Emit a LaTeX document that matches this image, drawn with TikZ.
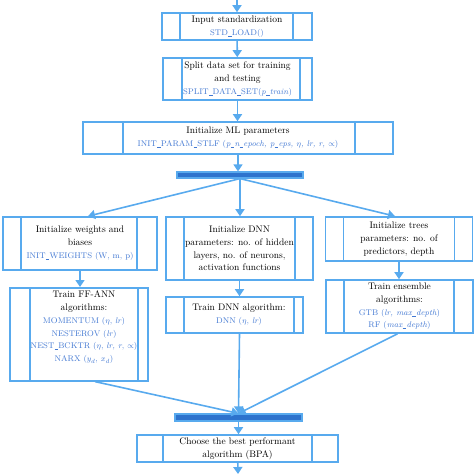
\documentclass[tikz,border=0pt]{standalone}
\usetikzlibrary{arrows.meta}
\definecolor{boxblue}{RGB}{88,170,238}
\definecolor{barblue}{RGB}{45,115,205}
\definecolor{fnblue}{RGB}{66,120,210}
\newcommand{\fncall}[1]{{\fontsize{8.2}{12.8}\selectfont\color{fnblue}#1}}
\newcommand{\us}{\kern0.2pt\rule[-0.9pt]{3.6pt}{0.4pt}\kern0.2pt}
\tikzset{
  proc/.style n args={2}{draw=boxblue, line width=1.6pt, align=center, inner sep=2pt,
    path picture={\draw[boxblue, line width=1.6pt]
      ([xshift=#1]path picture bounding box.north west) -- ([xshift=#1]path picture bounding box.south west)
      ([xshift=-#2]path picture bounding box.north east) -- ([xshift=-#2]path picture bounding box.south east);}},
  bar/.style={draw=boxblue, fill=barblue, line width=1.2pt, minimum width=126pt, minimum height=6pt, inner sep=0pt},
  arr/.style={draw=boxblue, line width=1.6pt, -{Triangle[width=9pt,length=7pt]}}
}
\begin{document}
\begin{tikzpicture}[x=1pt, y=-1pt, font=\fontsize{9.5}{12.8}\selectfont]
  \useasboundingbox (0,0) rectangle (474,474);

  % main column
  \node[proc={18pt}{19pt}, minimum width=150pt, minimum height=27pt] (std) at (237,26.5)
    {Input standardization\\ \fncall{STD\us LOAD()}};
  \node[proc={19pt}{12pt}, minimum width=149pt, minimum height=42pt] (split) at (237.5,79)
    {Split data set for training\\ and testing\\ \fncall{SPLIT\us DATA\us SET(\textit{p\us train})}};
  \node[proc={40pt}{38pt}, minimum width=310pt, minimum height=32pt] (init) at (238,138)
    {Initialize ML parameters\\ \fncall{INIT\us PARAM\us STLF (\textit{p\us n\us epoch, p\us eps, $\eta$, lr, r, $\propto$})}};
  \node[bar] (fork) at (240,175) {};

  % three branches
  \node[proc={18pt}{20pt}, minimum width=154pt, minimum height=53pt] (weights) at (80,243.5)
    {Initialize weights and\\ biases\\ \fncall{INIT\us WEIGHTS (W, m, p)}};
  \node[proc={18pt}{18pt}, minimum width=147pt, minimum height=63pt] (dnnpar) at (239.5,248.5)
    {Initialize DNN\\ parameters: no. of hidden\\ layers, no. of neurons,\\ activation functions};
  \node[proc={18pt}{18pt}, minimum width=147pt, minimum height=44pt] (trees) at (399,239)
    {Initialize trees\\ parameters: no. of\\ predictors, depth};

  \node[proc={20pt}{10pt}, anchor=north, minimum width=138pt, inner sep=3pt] (ffann) at (79,287)
    {\parbox[c][87pt][t]{120pt}{\centering\leftskip=10pt plus 1fil Train FF-ANN\\ algorithms:\\
      \fncall{MOMENTUM ($\eta$, \textit{lr})}\\
      \fncall{NESTEROV (\textit{lr})}\\
      \fncall{NEST\us BCKTR ($\eta$, \textit{lr, r}, $\propto$)}\\
      \fncall{NARX ($y_d$, $x_d$)}}};
  \node[proc={18pt}{9pt}, minimum width=137pt, minimum height=36pt] (dnntrain) at (234.5,315)
    {\parbox{120pt}{\centering\leftskip=9pt plus 1fil Train DNN algorithm:\\ \fncall{DNN ($\eta$, \textit{lr})}}};
  \node[proc={18pt}{19pt}, minimum width=147pt, minimum height=53pt] (ensemble) at (399.5,306.5)
    {Train ensemble\\ algorithms:\\ \fncall{GTB (\textit{lr, max\us depth})}\\ \fncall{RF (\textit{max\us depth})}};

  \node[bar, minimum height=7pt, minimum width=127pt] (join) at (238.5,417.5) {};
  \node[proc={26pt}{26pt}, minimum width=201pt, minimum height=27pt] (best) at (237.5,448.5)
    {Choose the best performant\\ algorithm (BPA)};

  \coordinate (start) at (237,0);
  \coordinate (finish) at (238,474);

  % connectors
  \draw[arr] (start) -- (std);
  \draw[arr] (std) -- (split);
  \draw[arr] (split.south) -- (split.south |- init.north);
  \draw[arr] (init.south) -- (init.south |- fork.north);
  \draw[arr] (fork.south) -- ([xshift=8pt]weights.north);
  \draw[arr] (fork.south) -- (fork.south |- dnnpar.north);
  \draw[arr] (fork.south) -- ([xshift=-4pt]trees.north);
  \draw[arr] (weights.south) -- (weights.south |- ffann.north);
  \draw[arr] (dnnpar.south) -- (dnnpar.south |- dnntrain.north);
  \draw[arr] (trees.south) -- (trees.south |- ensemble.north);
  \draw[arr] ([xshift=16pt]ffann.south) -- (join.north);
  \draw[arr] (dnnpar.south |- dnntrain.south) -- (join.north);
  \draw[arr] ([xshift=-2pt]ensemble.south) -- (join.north);
  \draw[arr] (join.south) -- (join.south |- best.north);
  \draw[arr] (best) -- (finish);
\end{tikzpicture}
\end{document}
